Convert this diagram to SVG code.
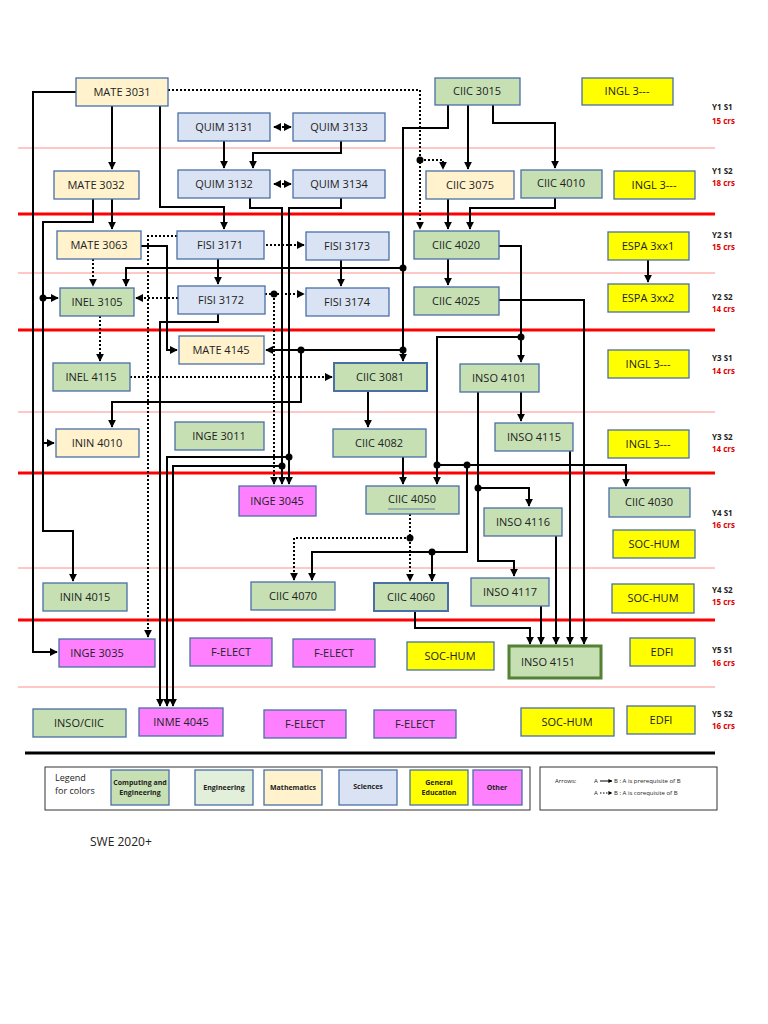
<svg xmlns="http://www.w3.org/2000/svg" width="768" height="1024" viewBox="0 0 768 1024">
<style>
.n rect{stroke:#4a6fa5;stroke-width:1.3}
.c{fill:#c6e0b4}.e{fill:#e2efda}.m{fill:#fff2cc}.s{fill:#dae3f3}.g{fill:#ffff00}.o{fill:#ff80ff}
text{font-family:"Open Sans","Liberation Sans",sans-serif;font-size:11px;fill:#222;text-anchor:middle}
.lb{font-size:8px;font-weight:bold;text-anchor:start}
.cr{font-size:8px;font-weight:bold;fill:#e00000;text-anchor:start}
.thin{stroke:#ff6060;stroke-width:1;opacity:.7}
.thick{stroke:#ff0000;stroke-width:3}
#conn path{fill:none;stroke:#000;stroke-width:2}
#conn .d{stroke-dasharray:2 2;stroke-width:2}
#conn circle{fill:#000}
.lg{font-size:7px;font-weight:bold}
</style>
<defs>
<marker id="a" viewBox="0 0 10 10" refX="9" refY="5" markerWidth="4" markerHeight="4" orient="auto"><path d="M0,0L10,5L0,10z" fill="#000"/></marker>
<marker id="b" viewBox="0 0 10 10" refX="1" refY="5" markerWidth="4" markerHeight="4" orient="auto"><path d="M10,0L0,5L10,10z" fill="#000"/></marker>
</defs>
<rect width="768" height="1024" fill="#fff"/>
<g id="rows">
<line class="thin" x1="18" y1="148" x2="715" y2="148"/>
<line class="thick" x1="18" y1="214" x2="715" y2="214"/>
<line class="thin" x1="18" y1="273" x2="715" y2="273"/>
<line class="thick" x1="18" y1="330" x2="715" y2="330"/>
<line class="thin" x1="18" y1="412" x2="715" y2="412"/>
<line class="thick" x1="18" y1="473" x2="715" y2="473"/>
<line class="thin" x1="18" y1="568" x2="715" y2="568"/>
<line class="thick" x1="18" y1="620" x2="715" y2="620"/>
<line class="thin" x1="18" y1="687" x2="715" y2="687"/>
<line stroke="#000" stroke-width="3" x1="25" y1="753" x2="715" y2="753"/>
<text class="lb" x="712" y="110">Y1 S1</text><text class="cr" x="712" y="124">15 crs</text>
<text class="lb" x="712" y="174">Y1 S2</text><text class="cr" x="712" y="186">18 crs</text>
<text class="lb" x="712" y="238">Y2 S1</text><text class="cr" x="712" y="250">15 crs</text>
<text class="lb" x="712" y="300">Y2 S2</text><text class="cr" x="712" y="312">14 crs</text>
<text class="lb" x="712" y="361">Y3 S1</text><text class="cr" x="712" y="374">14 crs</text>
<text class="lb" x="712" y="440">Y3 S2</text><text class="cr" x="712" y="452">14 crs</text>
<text class="lb" x="712" y="516">Y4 S1</text><text class="cr" x="712" y="528">16 crs</text>
<text class="lb" x="712" y="593">Y4 S2</text><text class="cr" x="712" y="605">15 crs</text>
<text class="lb" x="712" y="653">Y5 S1</text><text class="cr" x="712" y="666">16 crs</text>
<text class="lb" x="712" y="717">Y5 S2</text><text class="cr" x="712" y="729">16 crs</text>
</g>
<g id="conn">
<path d="M76,92H33V652H57" marker-end="url(#a)"/>
<path d="M112,106V169" marker-end="url(#a)"/>
<path d="M160,106V207H224V229" marker-end="url(#a)"/>
<path class="d" d="M168,90H420V229" marker-end="url(#a)"/>
<path class="d" d="M420,160H443V169" marker-end="url(#a)"/>
<circle cx="420" cy="160" r="3.5"/>
<path class="d" d="M274,127H291" marker-start="url(#b)" marker-end="url(#a)"/>
<path class="d" d="M274,184H291" marker-start="url(#b)" marker-end="url(#a)"/>
<path d="M224,141V168" marker-end="url(#a)"/>
<path d="M341,141V153H253V168" marker-end="url(#a)"/>
<path d="M112,199V229" marker-end="url(#a)"/>
<path d="M93,199V222H43V531H73V581" marker-end="url(#a)"/>
<path d="M43,298H58" marker-end="url(#a)"/>
<circle cx="43" cy="298" r="3.5"/>
<path d="M43,443H54" marker-end="url(#a)"/>
<path class="d" d="M93,259V286" marker-end="url(#a)"/>
<path d="M141,246H167V350H177" marker-end="url(#a)"/>
<path class="d" d="M177,236H148V637" marker-end="url(#a)"/>
<path class="d" d="M266,245H304" marker-end="url(#a)"/>
<path d="M218,259V284" marker-end="url(#a)"/>
<path d="M341,260V286" marker-end="url(#a)"/>
<path class="d" d="M178,298H136" marker-end="url(#a)"/>
<path class="d" d="M265,294H304" marker-end="url(#a)"/>
<path class="d" d="M274,294V484" marker-end="url(#a)"/>
<circle cx="274" cy="294" r="3.5"/>
<path d="M218,314V322H160V706" marker-end="url(#a)"/>
<path d="M250,198V208H282V484" marker-end="url(#a)"/>
<path d="M341,198V208H289V484" marker-end="url(#a)"/>
<path d="M289,457H167V706" marker-end="url(#a)"/>
<path d="M282,466H173V706" marker-end="url(#a)"/>
<circle cx="289" cy="457" r="3.5"/><circle cx="282" cy="466" r="3.5"/>
<path d="M448,105V128H403V361" marker-end="url(#a)"/>
<path d="M403,268H126V286" marker-end="url(#a)"/>
<circle cx="403" cy="268" r="3.5"/>
<path d="M403,350H266" marker-end="url(#a)"/>
<circle cx="403" cy="350" r="3.5"/><circle cx="301" cy="350" r="3.5"/>
<path d="M301,350V402H112V427" marker-end="url(#a)"/>
<path d="M468,105V169" marker-end="url(#a)"/>
<path d="M493,105V123H555V168" marker-end="url(#a)"/>
<path d="M448,199V229" marker-end="url(#a)"/>
<path d="M555,198V208H470V229" marker-end="url(#a)"/>
<path d="M448,259V285" marker-end="url(#a)"/>
<path d="M499,246H521V362" marker-end="url(#a)"/>
<path d="M521,337H437V484" marker-end="url(#a)"/>
<circle cx="521" cy="337" r="3.5"/>
<path d="M437,465H626V486" marker-end="url(#a)"/>
<circle cx="437" cy="465" r="3.5"/><circle cx="467" cy="465" r="3.5"/>
<path d="M467,465V552H312V580" marker-end="url(#a)"/>
<path d="M432,552V581" marker-end="url(#a)"/>
<circle cx="432" cy="552" r="3.5"/>
<path d="M499,300H584V644" marker-end="url(#a)"/>
<path d="M368,391V427" marker-end="url(#a)"/>
<path d="M403,457V484" marker-end="url(#a)"/>
<path class="d" d="M130,377H332" marker-end="url(#a)"/>
<path class="d" d="M100,316V361" marker-end="url(#a)"/>
<path d="M521,392V421" marker-end="url(#a)"/>
<path d="M478,392V561H514V576" marker-end="url(#a)"/>
<path d="M478,488H529V506" marker-end="url(#a)"/>
<circle cx="478" cy="488" r="3.5"/>
<path class="d" d="M410,514V581" marker-end="url(#a)"/>
<path class="d" d="M410,538H294V580" marker-end="url(#a)"/>
<circle cx="410" cy="538" r="3.5"/>
<path d="M415,611V628H530V644" marker-end="url(#a)"/>
<path d="M541,606V644" marker-end="url(#a)"/>
<path d="M556,536V644" marker-end="url(#a)"/>
<path d="M570,451V644" marker-end="url(#a)"/>
<path d="M648,260V282" marker-end="url(#a)"/>
</g>
<g class="n">
<g id="mate3031"><rect class="m" x="76" y="78" width="92" height="28"/><text x="122" y="96">MATE 3031</text></g>
<g id="quim3131"><rect class="s" x="178" y="113" width="92" height="28"/><text x="224" y="131">QUIM 3131</text></g>
<g id="quim3133"><rect class="s" x="293" y="113" width="92" height="28"/><text x="339" y="131">QUIM 3133</text></g>
<g id="ciic3015"><rect class="c" x="435" y="78" width="85" height="27"/><text x="477" y="95">CIIC 3015</text></g>
<g id="ingl1"><rect class="g" x="582" y="78" width="91" height="27"/><text x="627" y="95">INGL 3---</text></g>
<g id="mate3032"><rect class="m" x="54" y="171" width="85" height="28"/><text x="96" y="189">MATE 3032</text></g>
<g id="quim3132"><rect class="s" x="178" y="170" width="92" height="28"/><text x="224" y="188">QUIM 3132</text></g>
<g id="quim3134"><rect class="s" x="293" y="170" width="92" height="28"/><text x="339" y="188">QUIM 3134</text></g>
<g id="ciic3075"><rect class="m" x="426" y="171" width="88" height="28"/><text x="470" y="189">CIIC 3075</text></g>
<g id="ciic4010"><rect class="c" x="521" y="170" width="81" height="28"/><text x="561" y="187">CIIC 4010</text></g>
<g id="ingl2"><rect class="g" x="614" y="171" width="81" height="28"/><text x="654" y="189">INGL 3---</text></g>
<g id="mate3063"><rect class="m" x="57" y="231" width="84" height="28"/><text x="99" y="249">MATE 3063</text></g>
<g id="fisi3171"><rect class="s" x="177" y="231" width="87" height="28"/><text x="220" y="249">FISI 3171</text></g>
<g id="fisi3173"><rect class="s" x="306" y="232" width="83" height="28"/><text x="347" y="250">FISI 3173</text></g>
<g id="ciic4020"><rect class="c" x="414" y="231" width="85" height="28"/><text x="456" y="249">CIIC 4020</text></g>
<g id="espa1"><rect class="g" x="608" y="232" width="81" height="28"/><text x="648" y="250">ESPA 3xx1</text></g>
<g id="inel3105"><rect class="c" x="60" y="288" width="74" height="28"/><text x="97" y="306">INEL 3105</text></g>
<g id="fisi3172"><rect class="s" x="178" y="286" width="87" height="28"/><text x="221" y="304">FISI 3172</text></g>
<g id="fisi3174"><rect class="s" x="306" y="288" width="83" height="28"/><text x="347" y="306">FISI 3174</text></g>
<g id="ciic4025"><rect class="c" x="414" y="287" width="85" height="28"/><text x="456" y="305">CIIC 4025</text></g>
<g id="espa2"><rect class="g" x="608" y="284" width="81" height="28"/><text x="648" y="302">ESPA 3xx2</text></g>
<g id="mate4145"><rect class="m" x="179" y="336" width="85" height="28"/><text x="221" y="354">MATE 4145</text></g>
<g id="inel4115"><rect class="c" x="53" y="363" width="77" height="28"/><text x="91" y="381">INEL 4115</text></g>
<g id="ciic3081"><rect class="c" x="334" y="363" width="93" height="28" style="stroke-width:2"/><text x="380" y="381">CIIC 3081</text></g>
<g id="inso4101"><rect class="c" x="460" y="364" width="79" height="28"/><text x="499" y="382">INSO 4101</text></g>
<g id="ingl3"><rect class="g" x="608" y="350" width="81" height="28"/><text x="648" y="368">INGL 3---</text></g>
<g id="inin4010"><rect class="m" x="56" y="429" width="83" height="28"/><text x="97" y="447">ININ 4010</text></g>
<g id="inge3011"><rect class="c" x="175" y="422" width="89" height="28"/><text x="219" y="440">INGE 3011</text></g>
<g id="ciic4082"><rect class="c" x="333" y="429" width="93" height="28"/><text x="379" y="447">CIIC 4082</text></g>
<g id="inso4115"><rect class="c" x="495" y="423" width="78" height="28"/><text x="534" y="441">INSO 4115</text></g>
<g id="ingl4"><rect class="g" x="608" y="430" width="81" height="28"/><text x="648" y="448">INGL 3---</text></g>
<g id="inge3045"><rect class="o" x="239" y="486" width="77" height="30"/><text x="277" y="505">INGE 3045</text></g>
<g id="ciic4050"><rect class="c" x="366" y="486" width="93" height="28"/><text x="412" y="503">CIIC 4050</text><line x1="388" y1="509" x2="435" y2="509" stroke="#4a6fa5" stroke-width="0.8"/></g>
<g id="ciic4030"><rect class="c" x="609" y="488" width="81" height="29"/><text x="649" y="506">CIIC 4030</text></g>
<g id="inso4116"><rect class="c" x="484" y="508" width="78" height="28"/><text x="523" y="526">INSO 4116</text></g>
<g id="soc1"><rect class="g" x="613" y="530" width="82" height="28"/><text x="654" y="548">SOC-HUM</text></g>
<g id="inin4015"><rect class="c" x="43" y="583" width="84" height="28"/><text x="85" y="601">ININ 4015</text></g>
<g id="ciic4070"><rect class="c" x="251" y="582" width="84" height="28"/><text x="293" y="600">CIIC 4070</text></g>
<g id="ciic4060"><rect class="c" x="374" y="583" width="74" height="28" style="stroke-width:2"/><text x="411" y="601">CIIC 4060</text></g>
<g id="inso4117"><rect class="c" x="471" y="578" width="78" height="28"/><text x="510" y="596">INSO 4117</text></g>
<g id="soc2"><rect class="g" x="612" y="584" width="82" height="29"/><text x="653" y="602">SOC-HUM</text></g>
<g id="inge3035"><rect class="o" x="59" y="639" width="96" height="28"/><text x="97" y="657">INGE 3035</text></g>
<g id="fe1"><rect class="o" x="190" y="638" width="82" height="28"/><text x="231" y="656">F-ELECT</text></g>
<g id="fe2"><rect class="o" x="293" y="639" width="82" height="28"/><text x="334" y="657">F-ELECT</text></g>
<g id="soc3"><rect class="g" x="407" y="642" width="87" height="28"/><text x="450" y="660">SOC-HUM</text></g>
<g id="inso4151"><rect class="c" x="509" y="646" width="92" height="32" style="stroke:#538135;stroke-width:3"/><text x="548" y="666">INSO 4151</text></g>
<g id="edfi1"><rect class="g" x="630" y="638" width="65" height="28"/><text x="662" y="656">EDFI</text></g>
<g id="insociic"><rect class="c" x="33" y="709" width="93" height="28"/><text x="79" y="727">INSO/CIIC</text></g>
<g id="inme4045"><rect class="o" x="139" y="708" width="84" height="28"/><text x="181" y="726">INME 4045</text></g>
<g id="fe3"><rect class="o" x="264" y="710" width="82" height="28"/><text x="305" y="728">F-ELECT</text></g>
<g id="fe4"><rect class="o" x="374" y="710" width="82" height="28"/><text x="415" y="728">F-ELECT</text></g>
<g id="soc4"><rect class="g" x="521" y="708" width="93" height="28"/><text x="567" y="726">SOC-HUM</text></g>
<g id="edfi2"><rect class="g" x="627" y="706" width="68" height="28"/><text x="661" y="724">EDFI</text></g>
</g>
<g id="legend">
<rect x="45" y="767" width="485" height="43" fill="#fff" stroke="#333"/>
<text x="55" y="781" style="text-anchor:start;font-size:9px">Legend</text>
<text x="55" y="794" style="text-anchor:start;font-size:9px">for colors</text>
<g class="n">
<rect class="c" x="111" y="770" width="58" height="35"/>
<rect class="e" x="195" y="770" width="58" height="35"/>
<rect class="m" x="264" y="770" width="58" height="35"/>
<rect class="s" x="339" y="770" width="58" height="35"/>
<rect class="g" x="410" y="770" width="58" height="35"/>
<rect class="o" x="473" y="770" width="49" height="35"/>
</g>
<text class="lg" x="140" y="785">Computing and</text><text class="lg" x="140" y="795">Engineering</text>
<text class="lg" x="224" y="790">Engineering</text>
<text class="lg" x="293" y="790">Mathematics</text>
<text class="lg" x="368" y="789">Sciences</text>
<text class="lg" x="439" y="785">General</text><text class="lg" x="439" y="795">Education</text>
<text class="lg" x="497" y="790">Other</text>
<rect x="540" y="767" width="177" height="43" fill="#fff" stroke="#333"/>
<text x="555" y="783" style="text-anchor:start;font-size:6px">Arrows:</text>
<text x="594" y="783" style="text-anchor:start;font-size:6px">A</text>
<line x1="600" y1="781" x2="612" y2="781" stroke="#000" stroke-width="1" marker-end="url(#a)"/>
<text x="614" y="783" style="text-anchor:start;font-size:6px">B  :  A is prerequisite of B</text>
<text x="594" y="795" style="text-anchor:start;font-size:6px">A</text>
<line x1="600" y1="793" x2="612" y2="793" stroke="#000" stroke-width="1" stroke-dasharray="1.5 1.5" marker-end="url(#a)"/>
<text x="614" y="795" style="text-anchor:start;font-size:6px">B  :  A is corequisite of B</text>
</g>
<text x="90" y="846" style="text-anchor:start;font-size:12px">SWE 2020+</text>
</svg>
